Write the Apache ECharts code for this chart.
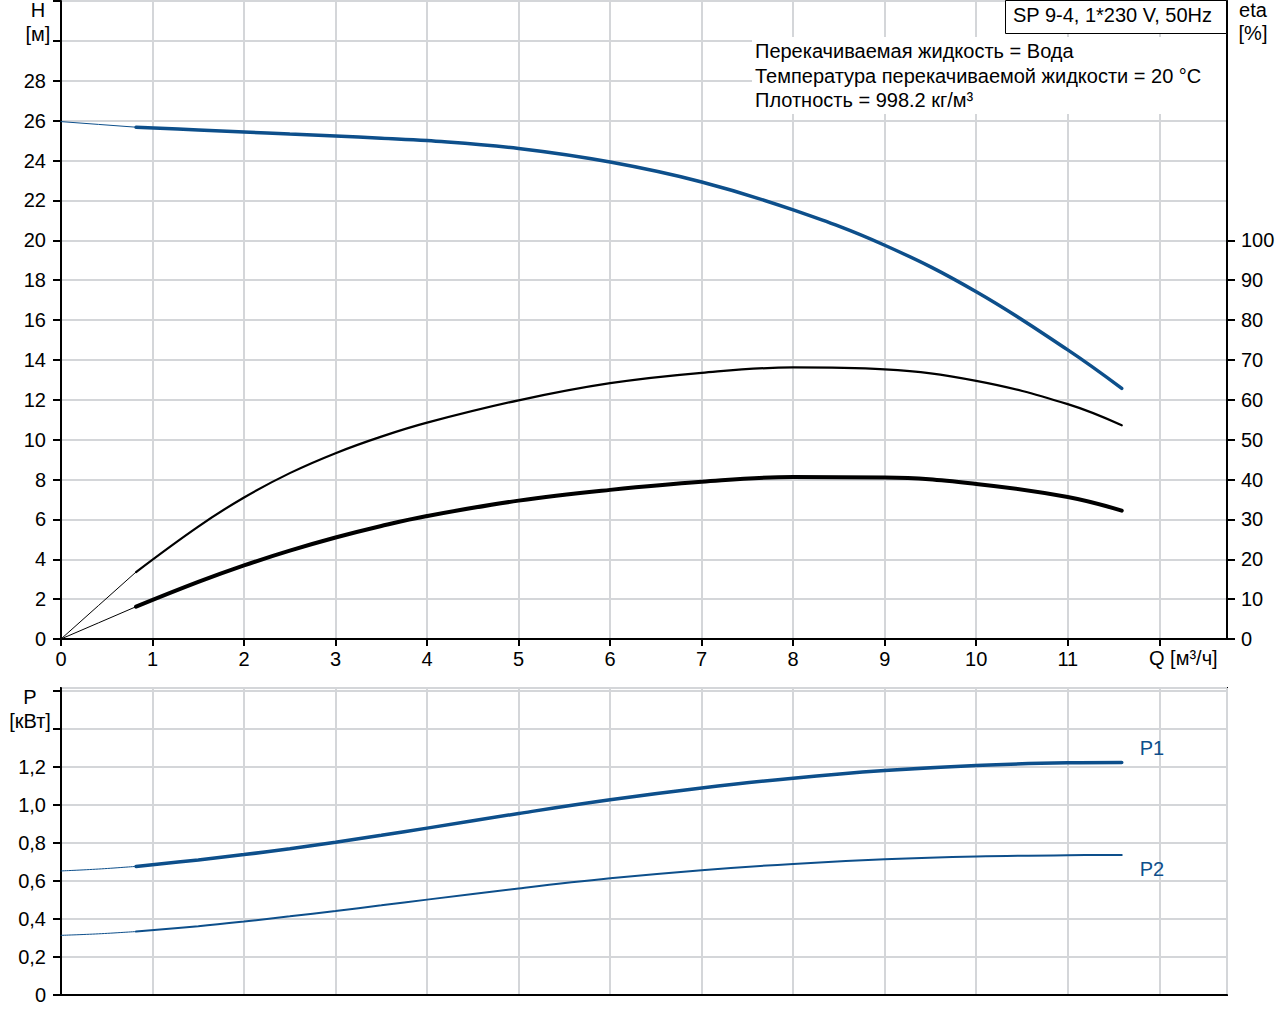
<!DOCTYPE html>
<html>
<head>
<meta charset="utf-8">
<script src="https://cdn.jsdelivr.net/npm/echarts@6/dist/echarts.min.js"></script>
<style>
html,body{margin:0;padding:0;background:#fff;}
#chart{width:1280px;height:1024px;}
</style>
</head>
<body>
<div id="chart"></div>
<script>
// ---- Data ----
const qMain = [0.82, 1.5, 2, 2.5, 3, 3.5, 4, 5, 6, 7, 8, 9, 10, 11, 11.59];
const hMain = [25.67, 25.53, 25.43, 25.33, 25.23, 25.12, 25.0, 24.6, 23.92, 22.92, 21.52, 19.75, 17.42, 14.5, 12.57];
const eta1Main = [16.8, 28.2, 35.5, 41.6, 46.6, 50.75, 54.25, 59.85, 64.15, 66.75, 68.1, 67.6, 64.75, 58.9, 53.6];
const eta2Main = [8.1, 14.3, 18.45, 22.15, 25.45, 28.35, 30.85, 34.7, 37.4, 39.45, 40.6, 40.5, 38.9, 35.6, 32.2];
const p1Main = [0.677, 0.711, 0.739, 0.77, 0.804, 0.8405, 0.8785, 0.9555, 1.0275, 1.0895, 1.1415, 1.1815, 1.2085, 1.222, 1.224];
const p2Main = [0.334, 0.3625, 0.387, 0.414, 0.4425, 0.472, 0.502, 0.561, 0.614, 0.657, 0.69, 0.714, 0.729, 0.736, 0.737];

const qExt = [0, 0.41, 0.82];
const hExt = [25.95, 25.81, 25.67];
const eta1Ext = [0, 8.4, 16.8];
const eta2Ext = [0, 4.05, 8.1];
const p1Ext = [0.653, 0.663, 0.677];
const p2Ext = [0.314, 0.322, 0.334];

const xTicksTop = [0, 1, 2, 3, 4, 5, 6, 7, 8, 9, 10, 11];
const hTickLabelsMax = 28;
const etaTicks = [0, 10, 20, 30, 40, 50, 60, 70, 80, 90, 100];
const pTicks = [0, 0.2, 0.4, 0.6, 0.8, 1.0, 1.2];

const infoLines = [
  'Перекачиваемая жидкость = Вода',
  'Температура перекачиваемой жидкости = 20 °C',
  'Плотность = 998.2 кг/м³'
];
const pumpTitle = 'SP 9-4, 1*230 V, 50Hz';

// ---- Styles ----
const BLUE = '#0d4f8b';
const FONT = "'Liberation Sans', Arial, sans-serif";
const FS = 20;
const GRIDC = '#d4d6d9';
const pair = (xs, ys) => xs.map((x, i) => [x, ys[i]]);

const axisLineStyle = {show: true, lineStyle: {color: '#000', width: 2}};
const splitStyle = {show: true, lineStyle: {color: GRIDC, width: 2}};
const labelStyle = {color: '#000', fontSize: FS, fontFamily: FONT};

function lineSeries(xi, yi, data, color, width, extra) {
  return Object.assign({
    type: 'line', xAxisIndex: xi, yAxisIndex: yi, data: data,
    symbol: 'none', smooth: 0.4, silent: true,
    lineStyle: {color: color, width: width, cap: 'round'}
  }, extra || {});
}
function txt(x, y, s, align, color) {
  return {type: 'text', z: 12, x: x, y: y, style: {
    text: s, font: FS + 'px ' + FONT, fill: color || '#000',
    textAlign: align || 'left', textVerticalAlign: 'middle'}};
}

const chart = echarts.init(document.getElementById('chart'), null, {renderer: 'svg'});
const option = {
  animation: false,
  backgroundColor: '#fff',
  grid: [
    {left: 61, right: 53, top: 1, height: 638, show: true, borderColor: '#000', borderWidth: 1.5},
    {left: 61, right: 53, top: 688, height: 307, show: true, borderColor: '#000', borderWidth: 2}
  ],
  xAxis: [
    {
      gridIndex: 0, type: 'value', min: 0, max: 12.74, interval: 1,
      axisLine: axisLineStyle,
      axisTick: {show: true, inside: false, length: 7, lineStyle: {color: '#000', width: 2}},
      axisLabel: Object.assign({}, labelStyle, {
        margin: 10, showMaxLabel: false,
        formatter: v => (xTicksTop.indexOf(v) >= 0 ? String(v) : '')
      }),
      splitLine: splitStyle
    },
    {
      gridIndex: 1, type: 'value', min: 0, max: 12.74, interval: 1,
      axisLine: axisLineStyle,
      axisTick: {show: false},
      axisLabel: {show: false},
      splitLine: splitStyle
    }
  ],
  yAxis: [
    {
      gridIndex: 0, type: 'value', min: 0, max: 32, interval: 2,
      axisLine: axisLineStyle,
      axisTick: {show: true, length: 8, lineStyle: {color: '#000', width: 2}},
      axisLabel: Object.assign({}, labelStyle, {
        margin: 15,
        formatter: v => (v <= hTickLabelsMax ? String(v) : '')
      }),
      splitLine: splitStyle
    },
    {
      gridIndex: 0, type: 'value', position: 'right', min: 0, max: 160, interval: 10,
      axisLine: axisLineStyle,
      axisTick: {show: true, length: 8, lineStyle: {color: '#000', width: 2}, customValues: etaTicks},
      axisLabel: Object.assign({}, labelStyle, {
        margin: 14, customValues: etaTicks,
        formatter: v => (v <= 100 ? String(v) : '')
      }),
      splitLine: {show: false}
    },
    {
      gridIndex: 1, type: 'value', min: 0, max: 1.616, interval: 0.2,
      axisLine: axisLineStyle,
      axisTick: {show: true, length: 8, lineStyle: {color: '#000', width: 2}},
      axisLabel: Object.assign({}, labelStyle, {
        margin: 15, showMaxLabel: false,
        formatter: v => {
          if (v === 0) return '0';
          if (v > 1.3) return '';
          return v.toFixed(1).replace('.', ',');
        }
      }),
      splitLine: splitStyle
    }
  ],
  series: [
    lineSeries(0, 0, pair(qExt, hExt), BLUE, 1, {smooth: false}),
    lineSeries(0, 0, pair(qMain, hMain), BLUE, 3.5),
    lineSeries(0, 1, pair(qExt, eta1Ext), '#000', 1, {smooth: false}),
    lineSeries(0, 1, pair(qMain, eta1Main), '#000', 2.2),
    lineSeries(0, 1, pair(qExt, eta2Ext), '#000', 1, {smooth: false}),
    lineSeries(0, 1, pair(qMain, eta2Main), '#000', 4),
    lineSeries(1, 2, pair(qExt, p1Ext), BLUE, 1),
    lineSeries(1, 2, pair(qMain, p1Main), BLUE, 3.5, {
      endLabel: {show: true, formatter: 'P1', color: BLUE, fontSize: FS, fontFamily: FONT, distance: 18, offset: [0, -14]}
    }),
    lineSeries(1, 2, pair(qExt, p2Ext), BLUE, 1),
    lineSeries(1, 2, pair(qMain, p2Main), BLUE, 2, {
      endLabel: {show: true, formatter: 'P2', color: BLUE, fontSize: FS, fontFamily: FONT, distance: 18, offset: [0, 14]}
    })
  ],
  graphic: [
    {type: 'rect', z: 10, shape: {x: 752, y: 37, width: 474, height: 77}, style: {fill: '#fff'}},
    {type: 'rect', z: 11, shape: {x: 1005.5, y: 0.5, width: 221, height: 33}, style: {fill: '#fff', stroke: '#000', lineWidth: 1}},
    txt(1013, 15, pumpTitle),
    txt(755, 51, infoLines[0]),
    txt(755, 76, infoLines[1]),
    txt(755, 100, infoLines[2]),
    txt(38, 10, 'H', 'center'),
    txt(38, 34, '[м]', 'center'),
    txt(1253, 10, 'eta', 'center'),
    txt(1253, 33, '[%]', 'center'),
    txt(1149, 658, 'Q [м³/ч]'),
    txt(30, 697, 'P', 'center'),
    txt(30, 721, '[кВт]', 'center')
  ]
};
chart.setOption(option);
</script>
</body>
</html>
